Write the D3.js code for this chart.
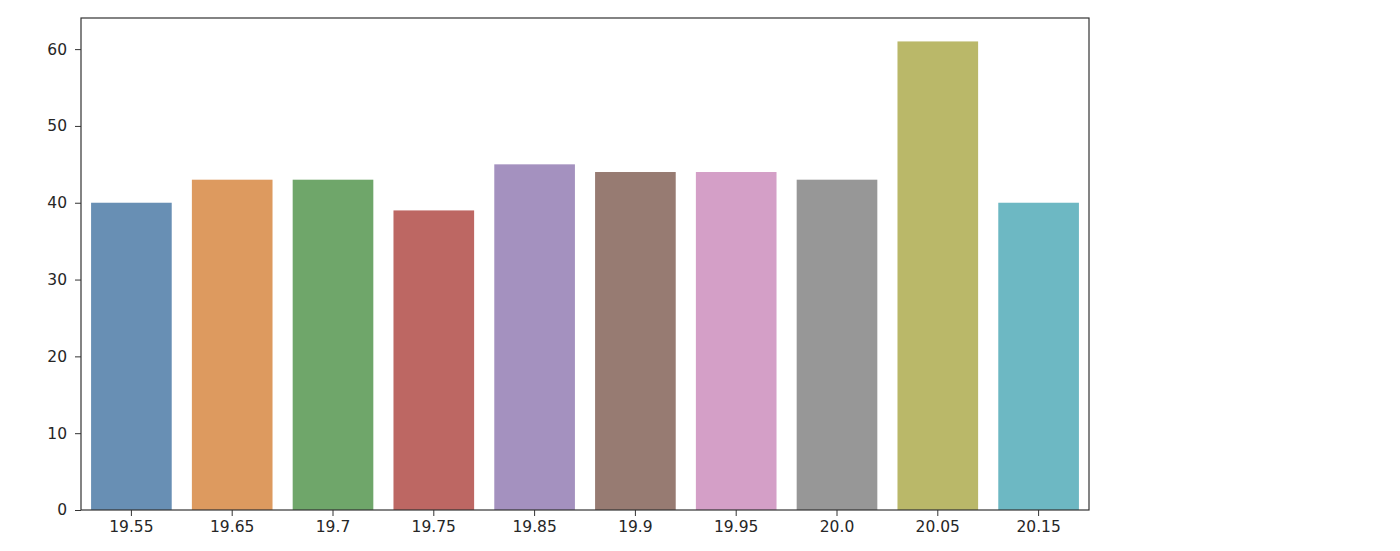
<!DOCTYPE html>
<html><head><meta charset="utf-8">
<script src="https://cdn.jsdelivr.net/npm/d3@7"></script>
<style>body{margin:0;background:#fff}svg text{font-family:"DejaVu Sans",sans-serif;fill:#262626}</style>
</head><body><svg id="c" width="1400" height="551"></svg>
<script>
const categories = ["19.55","19.65","19.7","19.75","19.85","19.9","19.95","20.0","20.05","20.15"];
const values = [40,43,43,39,45,44,44,43,61,40];
const colors = ["#688fb4","#dd9a5f","#6fa66a","#bd6763","#a491bf","#977b72","#d49fc7","#979797","#bab869","#6db8c3"];
const yTicks = [0,10,20,30,40,50,60];

const svg = d3.select("#c");
const L=81, R=1089, T=18, B=510;
const x = d3.scaleBand().domain(categories).range([L,R]).paddingInner(0.2).paddingOuter(0.1);
const y = d3.scaleLinear().domain([0, d3.max(values)*1.05]).range([B,T]);

svg.selectAll("rect.bar").data(values).enter().append("rect")
  .attr("x",(d,i)=>x(categories[i])).attr("width",x.bandwidth())
  .attr("y",d=>y(d)).attr("height",d=>B-y(d))
  .attr("fill",(d,i)=>colors[i]);

const xa = svg.append("g").attr("transform",`translate(0,${B})`).call(d3.axisBottom(x).tickSize(6).tickPadding(5));
const ya = svg.append("g").attr("transform",`translate(${L},0)`).call(d3.axisLeft(y).tickValues(yTicks).tickSize(6).tickPadding(8));
[xa,ya].forEach(a=>{a.select(".domain").remove();a.selectAll("line").attr("stroke","#333");a.selectAll("text").attr("font-size",15.5).attr("fill","#262626").attr("font-family","DejaVu Sans");});
svg.append("rect").attr("x",L).attr("y",T).attr("width",R-L).attr("height",B-T).attr("fill","none").attr("stroke","#333").attr("stroke-width",1.2);
</script></body></html>
